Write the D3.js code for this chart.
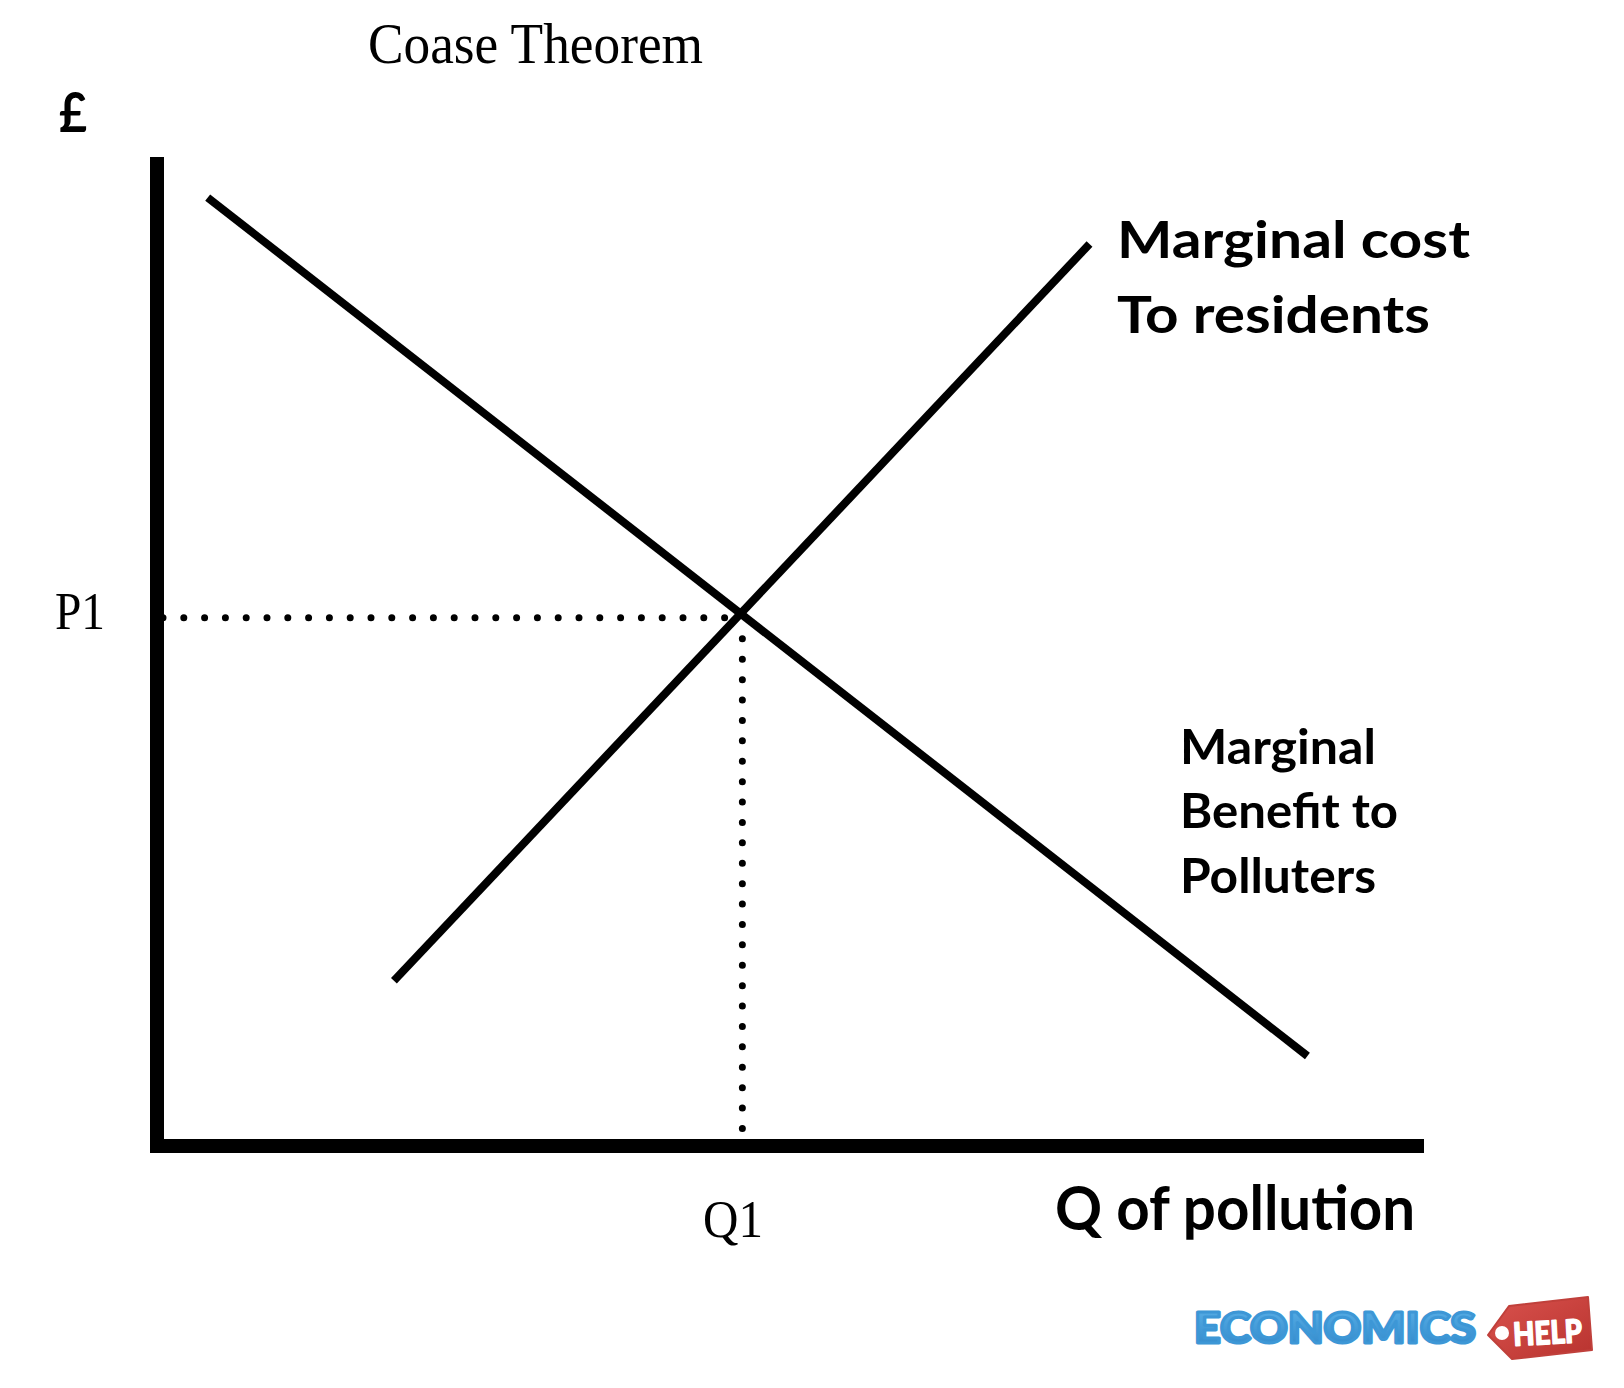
<!DOCTYPE html>
<html><head><meta charset="utf-8">
<script src="https://cdn.jsdelivr.net/npm/d3@7"></script>
<style>html,body{margin:0;padding:0;background:#fff;} svg{display:block}</style>
</head><body>
<script>
// ---- data ----
const mbQ = [4.0, 90.8];          // Marginal benefit to polluters (quantity)
const mbP = [95.9, 9.1];          // Marginal benefit to polluters (price)
const mcQ = [18.7, 73.6];         // Marginal cost to residents (quantity)
const mcP = [16.7, 91.2];         // Marginal cost to residents (price)
const eqQ = [46.2];               // Q1
const eqP = [53.4];               // P1
const xDomain = [0, 100];
const yDomain = [0, 100];
const titleText = "Coase Theorem";
const yAxisLabel = "£";
const xAxisLabel = "Q of pollution";
const pTickLabels = ["P1"];
const qTickLabels = ["Q1"];
const mcLabelLines = ["Marginal cost", "To residents"];
const mbLabelLines = ["Marginal", "Benefit to", "Polluters"];
const logoWords = ["ECONOMICS", "HELP"];

// ---- layout ----
const W = 1624, H = 1388;
const x = d3.scaleLinear().domain(xDomain).range([157, 1424]);
const y = d3.scaleLinear().domain(yDomain).range([1146, 157]);
const SANS = "Lato, 'Open Sans', sans-serif";
const SERIF = "'Liberation Serif', 'DejaVu Serif', serif";

const svg = d3.select("body").append("svg").attr("width", W).attr("height", H);
svg.append("rect").attr("width", W).attr("height", H).attr("fill", "#fff");

function fitText(sel, width) {
  return sel.attr("textLength", width).attr("lengthAdjust", "spacingAndGlyphs");
}

// axes
const yAx = svg.append("g").attr("transform", `translate(${x(0)},0)`)
  .call(d3.axisLeft(y).tickValues([]).tickSizeOuter(0));
yAx.select(".domain").attr("d", `M0,${y(yDomain[1])}V${y(0) + 7}`)
  .attr("stroke", "#000").attr("stroke-width", 14).attr("fill", "none");
const xAx = svg.append("g").attr("transform", `translate(0,${y(0)})`)
  .call(d3.axisBottom(x).tickValues([]).tickSizeOuter(0));
xAx.select(".domain").attr("d", `M${x(0) - 7},0H${x(xDomain[1])}`)
  .attr("stroke", "#000").attr("stroke-width", 14).attr("fill", "none");

// dotted guides
const dotStyle = (g, gap) => g.attr("stroke", "#000").attr("stroke-width", 7)
  .attr("stroke-linecap", "round").attr("stroke-dasharray", `0 ${gap}`).attr("fill", "none");
svg.append("line").attr("x1", x(0) + 6).attr("x2", x(eqQ[0]) - 8)
  .attr("y1", y(eqP[0])).attr("y2", y(eqP[0])).call(dotStyle, 20.8);
svg.append("line").attr("x1", x(eqQ[0])).attr("x2", x(eqQ[0]))
  .attr("y1", y(eqP[0]) + 21).attr("y2", y(0) - 15).call(dotStyle, 20.4);

// curves
const line = d3.line().x(d => x(d[0])).y(d => y(d[1]));
svg.append("path").datum(d3.zip(mbQ, mbP)).attr("d", line)
  .attr("stroke", "#000").attr("stroke-width", 8).attr("fill", "none");
svg.append("path").datum(d3.zip(mcQ, mcP)).attr("d", line)
  .attr("stroke", "#000").attr("stroke-width", 8).attr("fill", "none");

// texts
fitText(svg.append("text").text(titleText).attr("x", 368).attr("y", 63)
  .attr("font-family", SERIF).attr("font-size", 56), 335);
fitText(svg.append("text").text(yAxisLabel).attr("x", 59).attr("y", 132)
  .attr("font-family", SANS).attr("font-weight", 700).attr("font-size", 56), 28);
fitText(svg.append("text").text(pTickLabels[0]).attr("x", 55).attr("y", 629)
  .attr("font-family", SERIF).attr("font-size", 53), 50);
fitText(svg.append("text").text(qTickLabels[0]).attr("x", 703).attr("y", 1237)
  .attr("font-family", SERIF).attr("font-size", 53), 60);
fitText(svg.append("text").text(xAxisLabel).attr("x", 1055).attr("y", 1230)
  .attr("font-family", SANS).attr("font-weight", 700).attr("font-size", 61), 360);

const mcW = [353, 313], mcY = [258, 333];
mcLabelLines.forEach((t, i) => fitText(svg.append("text").text(t).attr("x", 1117).attr("y", mcY[i])
  .attr("font-family", SANS).attr("font-weight", 700).attr("font-size", 52), mcW[i]));
const mbW = [196, 218, 196], mbY = [764, 828, 893];
mbLabelLines.forEach((t, i) => fitText(svg.append("text").text(t).attr("x", 1180).attr("y", mbY[i])
  .attr("font-family", SANS).attr("font-weight", 700).attr("font-size", 47), mbW[i]));

// logo
const defs = svg.append("defs");
const gb = defs.append("linearGradient").attr("id", "blueg").attr("x1", 0).attr("y1", 0).attr("x2", 0).attr("y2", 1);
gb.append("stop").attr("offset", "0%").attr("stop-color", "#5cb3ea");
gb.append("stop").attr("offset", "100%").attr("stop-color", "#2f86c8");
const gr = defs.append("linearGradient").attr("id", "redg").attr("x1", 0).attr("y1", 0).attr("x2", 1).attr("y2", 1);
gr.append("stop").attr("offset", "0%").attr("stop-color", "#d9524d");
gr.append("stop").attr("offset", "100%").attr("stop-color", "#b8332f");
fitText(svg.append("text").text(logoWords[0]).attr("x", 1194).attr("y", 1343)
  .attr("font-family", SANS).attr("font-weight", 900).attr("font-size", 42)
  .attr("fill", "url(#blueg)").attr("stroke", "#3d97d6").attr("stroke-width", 3)
  .attr("stroke-linejoin", "round"), 282);
svg.append("path").attr("d", "M1488,1335 L1509,1306 L1588,1297 L1592,1350 L1512,1359 Z")
  .attr("fill", "url(#redg)").attr("stroke", "#c0403b").attr("stroke-width", 2).attr("stroke-linejoin", "round");
svg.append("circle").attr("cx", 1502).attr("cy", 1333).attr("r", 7).attr("fill", "#fff");
fitText(svg.append("text").text(logoWords[1]).attr("x", 1513).attr("y", 1344)
  .attr("transform", "rotate(-3 1548 1331)")
  .attr("font-family", SANS).attr("font-weight", 900).attr("font-size", 32)
  .attr("fill", "#fff").attr("stroke", "#fff").attr("stroke-width", 1.5).attr("stroke-linejoin", "round"), 69);
</script>
</body></html>
